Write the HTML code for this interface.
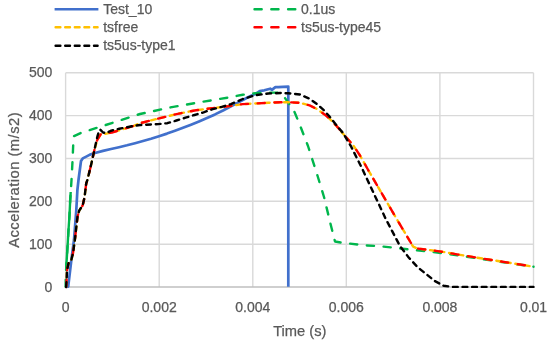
<!DOCTYPE html>
<html><head><meta charset="utf-8"><style>
html,body{margin:0;padding:0;background:#fff;}
svg{display:block;filter:blur(0.4px);}
text{font-family:"Liberation Sans",sans-serif;fill:#595959;stroke:#595959;stroke-width:0.25px;}
</style></head><body>
<svg width="550" height="343" viewBox="0 0 550 343">
<rect width="550" height="343" fill="#fff"/>
<g stroke="#d9d9d9" stroke-width="1.4" fill="none">
<line x1="65.6" y1="244.2" x2="533.5" y2="244.2"/>
<line x1="65.6" y1="201.3" x2="533.5" y2="201.3"/>
<line x1="65.6" y1="158.5" x2="533.5" y2="158.5"/>
<line x1="65.6" y1="115.6" x2="533.5" y2="115.6"/>
<line x1="65.6" y1="72.8" x2="533.5" y2="72.8"/>
<line x1="65.6" y1="72.8" x2="65.6" y2="287.0"/>
<line x1="159.2" y1="72.8" x2="159.2" y2="287.0"/>
<line x1="252.8" y1="72.8" x2="252.8" y2="287.0"/>
<line x1="346.3" y1="72.8" x2="346.3" y2="287.0"/>
<line x1="439.9" y1="72.8" x2="439.9" y2="287.0"/>
<line x1="533.5" y1="72.8" x2="533.5" y2="287.0"/>
</g>
<line x1="65.6" y1="287.0" x2="533.5" y2="287.0" stroke="#bfbfbf" stroke-width="1.6"/>
<g font-size="14">
<text x="52.3" y="291.5" text-anchor="end">0</text>
<text x="52.3" y="248.7" text-anchor="end">100</text>
<text x="52.3" y="205.8" text-anchor="end">200</text>
<text x="52.3" y="163.0" text-anchor="end">300</text>
<text x="52.3" y="120.1" text-anchor="end">400</text>
<text x="52.3" y="77.3" text-anchor="end">500</text>
<text x="65.6" y="311.7" text-anchor="middle">0</text>
<text x="159.2" y="311.7" text-anchor="middle">0.002</text>
<text x="252.8" y="311.7" text-anchor="middle">0.004</text>
<text x="346.3" y="311.7" text-anchor="middle">0.006</text>
<text x="439.9" y="311.7" text-anchor="middle">0.008</text>
<text x="533.5" y="311.7" text-anchor="middle">0.01</text>
</g>
<text x="299.8" y="336.2" font-size="14.7" text-anchor="middle">Time (s)</text>
<text transform="translate(19.2,179.9) rotate(-90)" font-size="14.7" letter-spacing="0.49" text-anchor="middle">Acceleration (m/s2)</text>
<g fill="none" stroke-width="2.4" stroke-linejoin="round">
<polyline points="65.6,286.8 68.2,286.6 71.4,259.7 74.0,240.0 76.3,210.0 77.4,190.0 78.5,180.0 81.0,161.0 82.7,158.4 86.2,156.6 90.0,154.6 95.0,153.0 103.0,150.9 111.0,149.0 119.0,147.2 127.0,145.3 135.0,143.2 143.0,141.0 151.0,138.7 159.0,136.2 167.0,133.6 175.0,130.8 183.0,127.8 191.0,124.7 199.0,121.4 207.0,118.0 215.0,114.4 223.0,110.5 231.0,106.3 239.0,102.1 247.0,97.7 255.5,93.8 259.7,91.0 264.3,90.3 270.2,88.7 271.9,89.9 275.4,87.1 278.3,87.1 283.0,86.8 288.3,86.6 288.3,286.8" stroke="#4170cc" stroke-width="2.7"/>
<polyline points="66.2,268 67,255 67.8,242 68.5,230 69.5,215 70.2,200 70.7,192" stroke="#00b64c"/>
<polyline points="65.6,286.8 65.8,275.0 66.4,265.0 67.0,255.0 67.8,242.0 68.5,230.0 69.5,215.0 70.2,200.0 70.9,190.0 71.8,175.0 72.7,157.0 73.4,140.0 73.6,136.3 81.0,132.9 97.6,127.6 119.5,120.6 140.0,114.0 170.1,107.5 200.0,102.2 230.0,97.3 242.7,94.7 255.5,93.3 268.2,92.6 277.1,92.6 280.9,94.5 284.7,97.7 289.8,104.7 293.6,109.8 298.9,122.5 308.0,146.0 317.6,176.0 324.0,197.0 330.6,224.2 335.0,241.5 341.5,242.7 366.8,245.5 380.0,246.2 410.5,249.6 431.5,251.9 449.0,254.0 460.0,255.7 533.5,266.7" stroke="#00b64c" stroke-dasharray="7.2 9.6" stroke-linecap="round"/>
<polyline points="66.1,287.0 66.6,280.0 67.0,270.2 68.7,262.3 71.4,259.7 73.1,252.7 74.8,240.5 77.5,216.7 79.2,210.6 82.7,205.3 84.5,197.5 86.2,183.5 87.4,180.0 91.5,163.1 94.4,150.0 97.3,139.8 100.9,134.0 104.6,134.0 111.9,132.5 119.2,130.3 126.4,128.1 133.7,125.9 140.0,123.2 158.2,118.6 176.4,114.1 194.5,110.5 212.7,108.1 230.9,105.9 242.7,104.1 255.5,103.5 268.2,102.8 280.9,102.2 288.5,102.2 300.0,102.8 309.6,105.4 316.9,109.0 324.2,114.2 329.3,118.5 335.8,125.1 343.1,133.8 353.0,145.0 360.0,155.5 367.9,169.5 397.0,219.5 413.2,246.7 417.6,248.5 437.7,251.1 447.2,252.6 460.0,254.9 533.5,266.7" stroke="#ffc000" stroke-dasharray="4.8 4.8" stroke-linecap="round"/>
<polyline points="66.1,287.0 66.6,280.0 67.0,270.2 68.7,262.3 71.4,259.7 73.1,252.7 74.8,240.5 77.5,216.7 79.2,210.6 82.7,205.3 84.5,197.5 86.2,183.5 87.4,180.0 91.5,163.1 94.4,150.0 97.3,139.8 100.9,134.0 104.6,134.0 111.9,132.5 119.2,130.3 126.4,128.1 133.7,125.9 140.0,123.2 158.2,118.6 176.4,114.1 194.5,110.5 212.7,108.1 230.9,105.9 242.7,104.1 255.5,103.5 268.2,102.8 280.9,102.2 288.5,102.2 300.0,102.8 309.6,105.4 316.9,109.0 324.2,114.2 329.3,118.5 335.8,125.1 343.1,133.8 353.0,145.0 360.0,155.5 367.9,169.5 397.0,219.5 413.2,246.7 417.6,248.5 437.7,251.1 447.2,252.6 460.0,254.9 533.5,266.7" stroke="#ff0000" stroke-dasharray="7.2 9.6" stroke-linecap="round"/>
<polyline points="66.1,287.0 66.6,280.0 67.0,270.2 68.7,262.3 71.4,259.7 73.1,252.7 74.8,240.5 77.5,216.7 79.2,210.6 82.7,205.3 84.5,197.5 86.2,183.5 87.4,180.0 91.5,163.1 94.4,150.0 97.3,136.9 98.7,131.8 100.2,129.6 103.1,132.5 106.0,133.2 110.4,131.0 114.8,129.6 119.2,128.8 126.4,127.4 133.7,125.9 140.0,125.0 158.2,124.1 167.3,123.2 176.4,120.5 185.5,117.7 194.5,115.0 203.6,112.3 212.7,109.2 221.8,106.8 230.9,104.1 242.7,99.0 255.5,95.2 268.2,93.5 280.9,93.0 288.5,93.3 300.0,94.5 309.6,98.8 316.9,104.0 324.2,110.5 329.3,116.3 335.8,124.4 343.1,133.1 351.2,146.7 361.7,167.7 385.6,218.6 400.0,246.1 408.7,257.5 417.5,267.1 426.2,274.1 435.0,281.1 443.7,285.8 452.5,286.9 533.5,286.9" stroke="#000000" stroke-dasharray="4.8 4.8" stroke-linecap="round"/>
</g>
<g stroke-width="2.4">
<line x1="54.6" y1="9.3" x2="98.4" y2="9.3" stroke="#4170cc"/>
<line x1="55.6" y1="27.2" x2="97.6" y2="27.2" stroke="#ffc000" stroke-dasharray="4.8 4.8" stroke-linecap="round"/>
<line x1="55.6" y1="45.8" x2="97.6" y2="45.8" stroke="#000000" stroke-dasharray="4.8 4.8" stroke-linecap="round"/>
<line x1="254.5" y1="9.3" x2="295.6" y2="9.3" stroke="#00b64c" stroke-dasharray="7.2 9.6" stroke-linecap="round"/>
<line x1="254.5" y1="27.2" x2="295.6" y2="27.2" stroke="#ff0000" stroke-dasharray="7.2 9.6" stroke-linecap="round"/>
</g>
<g font-size="14">
<text x="103.2" y="13.5">Test_10</text>
<text x="103.2" y="31.6">tsfree</text>
<text x="103.2" y="49.7">ts5us-type1</text>
<text x="301.0" y="13.5">0.1us</text>
<text x="301.0" y="31.6">ts5us-type45</text>
</g>
</svg>
</body></html>
